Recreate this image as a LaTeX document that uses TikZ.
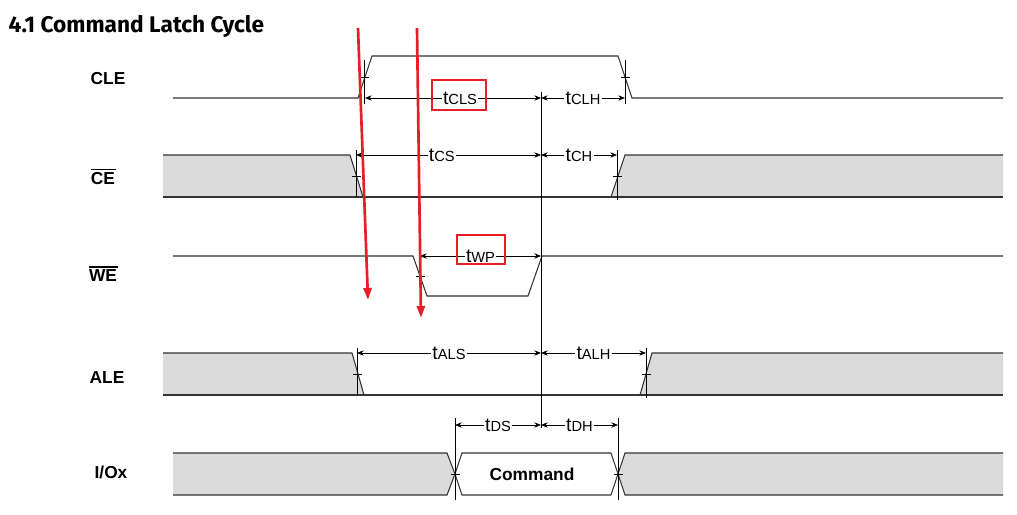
\documentclass[tikz,border=0pt]{standalone}
\usepackage{fontspec}
\setmainfont{Liberation Sans}
\newfontfamily\titlefont{Fira Sans}
\usetikzlibrary{arrows.meta}
\newcommand{\sbs}[1]{{\fontsize{11}{11}\selectfont #1}}
\begin{document}
\begin{tikzpicture}[x=0.75pt,y=-0.75pt,
 sig/.style={draw=black!80,line width=0.8pt},
 hat/.style={fill=black!14,draw=none},
 tk/.style={draw=black,line width=0.6pt},
 dim/.style={draw=black,line width=0.6pt,{Stealth[length=5pt,width=4pt]}-{Stealth[length=5pt,width=4pt]}},
 lab/.style={fill=white,inner sep=1pt,font=\fontsize{14.5}{14.5}\selectfont},
 sn/.style={font=\bfseries\fontsize{13}{13}\selectfont},
 red/.style={draw={rgb,255:red,230;green,30;blue,40},line width=1.8pt},
 rarr/.style={draw={rgb,255:red,230;green,30;blue,40},line width=2pt,-{Triangle[length=9pt,width=6pt]}}]
\useasboundingbox (0,0) rectangle (1017,514);
\node[anchor=west,font=\titlefont\bfseries\fontsize{17}{17}\selectfont] (title) at (4,26) {4.1 Command Latch Cycle};
% labels
\node[sn] (lcle) at (108,79) {CLE};
\node[sn] (lce) at (103,177) {\rlap{\rule[10.5pt]{19pt}{0.8pt}}CE};
\node[sn] (lwe) at (103,274) {\rlap{\rule[10.5pt]{22pt}{0.8pt}}WE};
\node[sn] (lale) at (107,378) {ALE};
\node[sn] (lio) at (111,472) {I/Ox};
% CLE
\draw[sig] (173,98)--(358,98)--(372,56)--(618,56)--(632,98)--(1003,98);
\draw[tk] (364,60)--(364,104) (360,77)--(369,77);
\draw[tk] (625,60)--(625,104) (621,77)--(630,77);
% CE
\fill[hat] (163,155)--(350,155)--(363,197)--(163,197)--cycle;
\fill[hat] (611,197)--(625,155)--(1003,155)--(1003,197)--cycle;
\draw[sig] (163,155)--(350,155)--(363,197);
\draw[sig] (163,197)--(1003,197);
\draw[sig] (611,197)--(625,155)--(1003,155);
\draw[tk] (356,150)--(356,197) (352,176)--(361,176);
\draw[tk] (617,150)--(617,200) (613,176)--(622,176);
% WE
\draw[sig] (173,256)--(413,256)--(427,296)--(528,296)--(542,256)--(1003,256);
\draw[tk] (420,250)--(420,296) (416,276)--(425,276);
% ALE
\fill[hat] (163,353)--(352,353)--(364,395)--(163,395)--cycle;
\fill[hat] (640,395)--(652,353)--(1003,353)--(1003,395)--cycle;
\draw[sig] (163,353)--(352,353)--(364,395);
\draw[sig] (163,395)--(1003,395);
\draw[sig] (640,395)--(652,353)--(1003,353);
\draw[tk] (357,348)--(357,395) (353,374)--(362,374);
\draw[tk] (646,348)--(646,398) (642,374)--(651,374);
% IO
\fill[hat] (173,453)--(447,453)--(455,474)--(447,495)--(173,495)--cycle;
\fill[hat] (618,474)--(625,453)--(1003,453)--(1003,495)--(625,495)--cycle;
\draw[sig] (173,453)--(447,453)--(455,474)--(447,495)--(173,495);
\draw[sig] (455,474)--(462,453)--(611,453)--(618,474)--(611,495)--(462,495)--cycle;
\draw[sig] (1003,453)--(625,453)--(618,474)--(625,495)--(1003,495);
\node[sn] (cmd) at (532,474) {Command};
\draw[tk] (455,418)--(455,500) (451,474)--(460,474);
\draw[tk] (618,418)--(618,500) (614,474)--(623,474);
% central line
\draw[tk] (541,92)--(541,428);
% dims
\draw[dim] (365,98)--(541,98) node[lab,pos=0.54] (tcls) {t\sbs{CLS}};
\draw[dim] (541,98)--(625,98) node[lab,midway] (tclh) {t\sbs{CLH}};
\draw[dim] (356,155)--(541,155) node[lab,pos=0.5,xshift=-5pt] (tcs) {t\sbs{CS}};
\draw[dim] (541,155)--(617,155) node[lab,midway] (tch) {t\sbs{CH}};
\draw[dim] (420,256)--(541,256) node[lab,pos=0.5] (twp) {t\sbs{WP}};
\draw[dim] (357,353)--(541,353) node[lab,midway] (tals) {t\sbs{ALS}};
\draw[dim] (541,353)--(646,353) node[lab,midway] (talh) {t\sbs{ALH}};
\draw[dim] (455,425)--(541,425) node[lab,midway] (tds) {t\sbs{DS}};
\draw[dim] (541,425)--(618,425) node[lab,midway] (tdh) {t\sbs{DH}};
% red
\draw[red] (432,80) rectangle (486,110);
\draw[red] (457,235) rectangle (505,264);
\coordinate (r1s) at (358,28); \coordinate (r1e) at (368,300);
\coordinate (r2s) at (417,28); \coordinate (r2e) at (421,318);
\draw[rarr] (r1s)--(r1e);
\draw[rarr] (r2s)--(r2e);
\end{tikzpicture}
\end{document}
